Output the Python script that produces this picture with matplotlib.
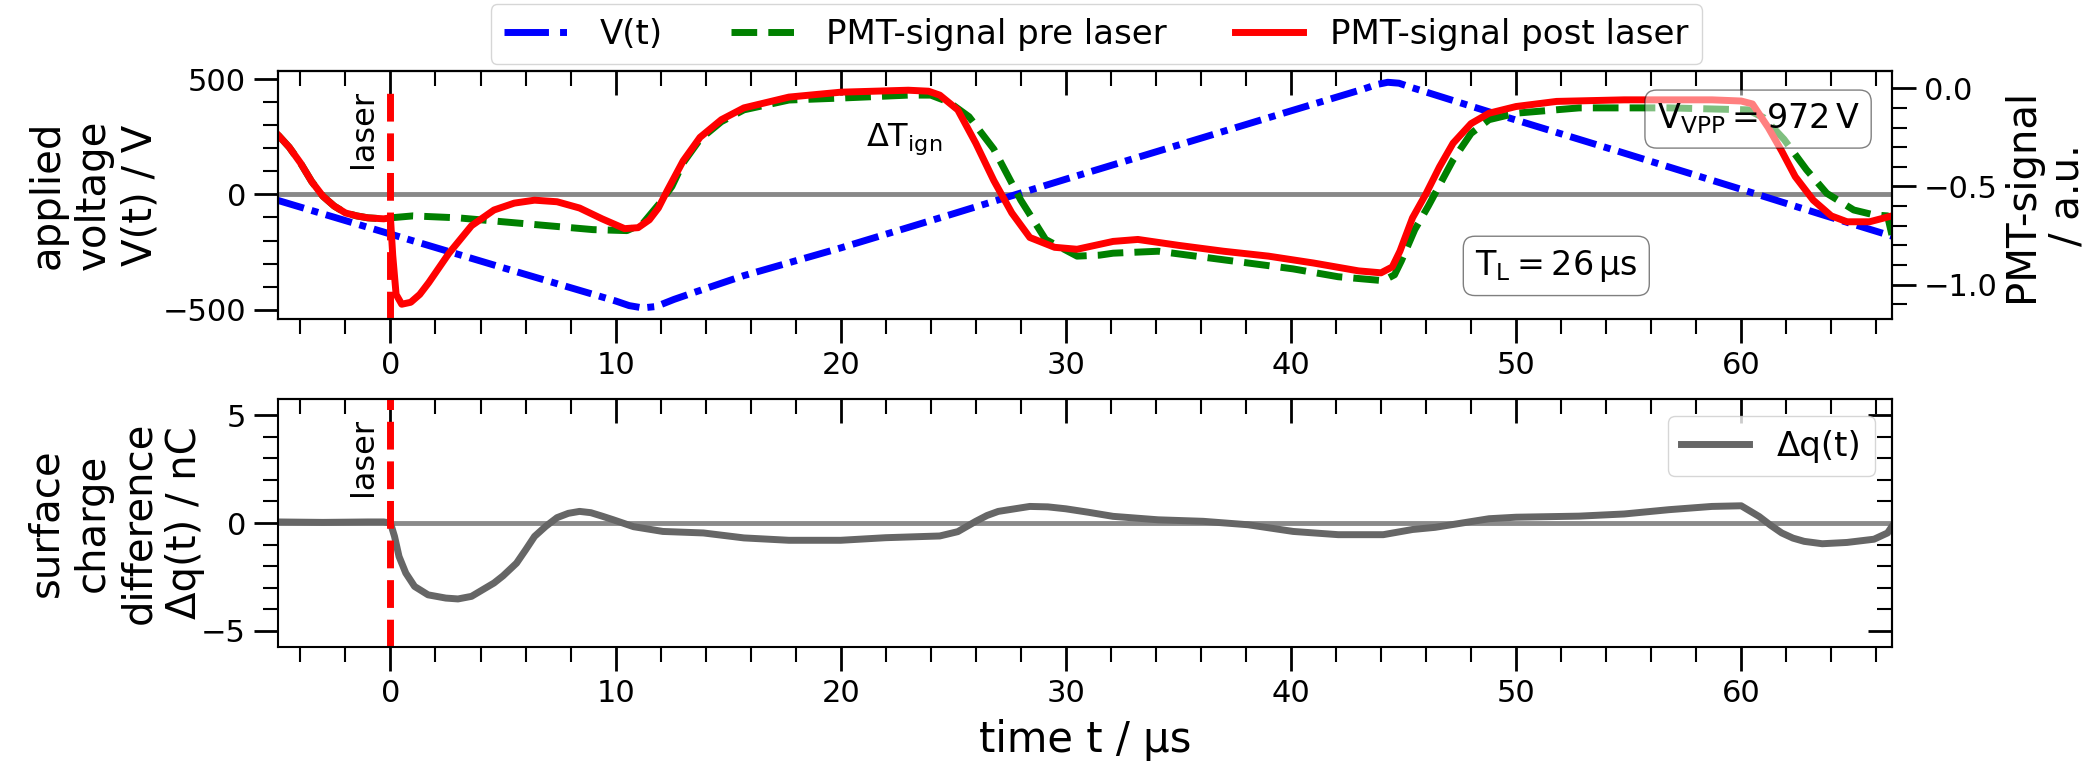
import matplotlib
matplotlib.use("Agg")
import matplotlib.pyplot as plt
from matplotlib.ticker import MultipleLocator
from matplotlib.lines import Line2D
import matplotlib.transforms as mtransforms

plt.rcParams['font.family'] = ['DejaVu Sans']
plt.rcParams['mathtext.fontset'] = 'dejavusans'

# ---------------- data ----------------
t_v = [-5, 0, 5, 10, 10.6, 11.2, 11.8, 12.6, 13.7, 15.7, 20, 25, 30, 35, 40,
       43.2, 43.8, 44.3, 44.8, 45.4, 48.8, 54.6, 60, 63.5, 66.7]
v_t = [-26, -172, -318, -462, -482, -492, -486, -455, -418, -352, -232, -84, 66,
       214, 362, 456, 476, 486, 482, 462, 358, 185, 22, -85, -181]

t_post = [-5, -4.5, -4, -3.5, -3, -2.5, -2, -1.5, -1, -0.3, 0, 0.1, 0.25, 0.5,
          0.9, 1.3, 1.7, 2.6, 3.6, 4.6, 5.5, 6.4, 7.4, 8.4, 9.4, 10.4, 11.0,
          11.5, 11.9, 12.3, 13.0, 13.75, 14.7, 15.7, 17.7, 20, 23.0, 23.9, 24.4,
          25.2, 26.0, 26.8, 27.6, 28.4, 29.5, 30.5, 31.3, 32.1, 33.2, 35, 37,
          39, 41, 43, 44.0, 44.5, 44.84, 45.4, 46.0, 46.6, 47.2, 48.0, 48.8,
          50.0, 51.8, 54.8, 58.7, 60.0, 60.5, 61.2, 61.8, 62.4, 63.2, 64.0,
          64.7, 65.7, 66.7]
pmt_post = [-0.237, -0.30, -0.38, -0.475, -0.55, -0.60, -0.635, -0.65, -0.66,
            -0.665, -0.66, -0.85, -1.05, -1.10, -1.09, -1.05, -0.99, -0.84,
            -0.70, -0.62, -0.585, -0.57, -0.578, -0.61, -0.665, -0.715, -0.71,
            -0.67, -0.61, -0.52, -0.37, -0.25, -0.16, -0.10, -0.045, -0.02,
            -0.01, -0.015, -0.035, -0.11, -0.28, -0.47, -0.635, -0.76, -0.81,
            -0.82, -0.80, -0.78, -0.77, -0.80, -0.83, -0.855, -0.89, -0.93,
            -0.94, -0.91, -0.83, -0.66, -0.537, -0.40, -0.28, -0.18, -0.127,
            -0.093, -0.067, -0.059, -0.059, -0.065, -0.08, -0.20, -0.32,
            -0.45, -0.57, -0.65, -0.68, -0.68, -0.65]

t_pre = [-5, -4.5, -4, -3.5, -3, -2.5, -2, -1.5, -1, -0.3, 0, 1, 3, 5, 7, 9,
         10.5, 11.2, 12.0, 12.5, 13.0, 13.75, 14.7, 15.7, 17.7, 20, 23.0, 24.0,
         24.8, 25.7, 26.8, 28.0, 29.1, 30.5, 31.5, 32.1, 34.1, 36.1, 38.1,
         40.1, 42.1, 44.1, 44.6, 44.9, 45.5, 46.1, 47.2, 48.0, 48.8, 50.0,
         52.8, 56.8, 60.3, 61.0, 61.9, 62.9, 63.8, 65.0, 65.9, 66.5, 66.8]
pmt_pre = [-0.237, -0.30, -0.38, -0.475, -0.55, -0.60, -0.635, -0.65, -0.66,
           -0.665, -0.66, -0.65, -0.66, -0.68, -0.70, -0.72, -0.725, -0.69,
           -0.58, -0.50, -0.38, -0.26, -0.17, -0.11, -0.06, -0.05, -0.035,
           -0.035, -0.07, -0.145, -0.31, -0.57, -0.77, -0.855, -0.85, -0.84,
           -0.83, -0.86, -0.89, -0.92, -0.96, -0.98, -0.95, -0.88, -0.72,
           -0.60, -0.365, -0.23, -0.16, -0.127, -0.10, -0.10, -0.11, -0.15,
           -0.26, -0.415, -0.535, -0.62, -0.645, -0.65, -0.80]

t_dq = [-5, -3, -1, -0.3, 0, 0.18, 0.38, 0.68, 1.07, 1.67, 2.46, 3.0, 3.6, 4.6,
        5.0, 5.6, 6.0, 6.4, 6.9, 7.4, 7.9, 8.4, 8.9, 9.4, 9.9, 10.8, 12.1,
        13.9, 15.7, 17.7, 20, 22, 24.4, 25.2, 26.0, 26.5, 27.0, 28.4, 29.2,
        30, 31.0, 32.1, 34.1, 36.1, 38.1, 40.1, 42.1, 44.1, 45.4, 46.4, 48.8,
        50, 52.8, 54.8, 56.8, 58.7, 60.0, 60.8, 61.3, 61.8, 62.3, 62.8, 63.6,
        64.7, 65.9, 66.5, 66.9]
dq = [0.05, 0.03, 0.05, 0.05, 0.0, -0.62, -1.55, -2.32, -2.94, -3.33, -3.48,
      -3.52, -3.40, -2.78, -2.45, -1.86, -1.25, -0.62, -0.15, 0.25, 0.45, 0.54,
      0.48, 0.32, 0.15, -0.17, -0.39, -0.46, -0.69, -0.80, -0.80, -0.68,
      -0.60, -0.40, 0.08, 0.35, 0.54, 0.77, 0.75, 0.66, 0.50, 0.31, 0.15,
      0.08, -0.08, -0.39, -0.54, -0.54, -0.30, -0.20, 0.20, 0.27, 0.32, 0.42,
      0.62, 0.77, 0.80, 0.30, -0.10, -0.46, -0.70, -0.85, -0.96, -0.90, -0.75,
      -0.46, 0.15]

laser_t = 0
labels = ['V(t)', 'PMT-signal pre laser', 'PMT-signal post laser']
dq_label = 'Δq(t)'

# ---------------- figure ----------------
fig = plt.figure(figsize=(20.99, 7.64), dpi=100)
ax = fig.add_axes([0.1324, 0.5825, 0.769, 0.3246])
axb = fig.add_axes([0.1324, 0.1531, 0.769, 0.3246], sharex=ax)
ax2 = ax.twinx()

LW = 5
TL_MAJ, TL_MIN = 17, 11
TFS = 22
LFS = 29
VDASH = (0, (3.9, 1.15, 1.0, 1.15))

ax.axhline(0, color='#888888', lw=3.5, zorder=1)
ax.plot(t_v, v_t, color='blue', lw=LW, ls=VDASH)
l_pre, = ax2.plot(t_pre, pmt_pre, color='green', lw=LW, ls='--')
l_post, = ax2.plot(t_post, pmt_post, color='red', lw=LW, ls='-')
ax2.axvline(laser_t, ymin=0, ymax=0.94, color='red', lw=LW, ls=(0, (4, 1.7)))

axb.axhline(0, color='#8a8a8a', lw=3.5, zorder=1)
axb.plot(t_dq, dq, color='#666666', lw=LW, label=dq_label)
axb.axvline(laser_t, color='red', lw=LW, ls=(0, (4, 1.7)))

# legend proxy for V(t)
h_v = Line2D([], [], color='blue', lw=LW, ls='-.')

# limits
ax.set_xlim(-5, 66.7)
ax.set_ylim(-540, 535)
ax2.set_ylim(-1.175, 0.088)
axb.set_ylim(-5.75, 5.75)

# ticks
ax.xaxis.set_major_locator(MultipleLocator(10))
ax.xaxis.set_minor_locator(MultipleLocator(2))
ax.yaxis.set_major_locator(MultipleLocator(500))
ax.yaxis.set_minor_locator(MultipleLocator(100))
ax2.yaxis.set_major_locator(MultipleLocator(0.5))
ax2.yaxis.set_minor_locator(MultipleLocator(0.1))
axb.yaxis.set_major_locator(MultipleLocator(5))
axb.yaxis.set_minor_locator(MultipleLocator(1))

for a in (ax, axb, ax2):
    a.tick_params(which='major', direction='out', length=TL_MAJ, width=2,
                  labelsize=TFS, pad=6)
    a.tick_params(which='minor', direction='out', length=TL_MIN, width=1.5)
    for s in a.spines.values():
        s.set_linewidth(1.5)
ax.tick_params(axis='y', which='both', right=False)
axb.tick_params(axis='y', which='both', right=False)
axb.tick_params(axis='x', which='both', top=False)
ax.tick_params(axis='x', which='both', top=False)

for a in (ax, axb):
    sec = a.secondary_xaxis('top')
    sec.xaxis.set_major_locator(MultipleLocator(10))
    sec.xaxis.set_minor_locator(MultipleLocator(2))
    sec.tick_params(which='major', direction='in', length=TL_MAJ, width=2,
                    labeltop=False)
    sec.tick_params(which='minor', direction='in', length=TL_MIN, width=1.5)
    sec.spines['top'].set_linewidth(1.5)

secy = axb.secondary_yaxis('right')
secy.yaxis.set_major_locator(MultipleLocator(5))
secy.yaxis.set_minor_locator(MultipleLocator(1))
secy.tick_params(which='major', direction='in', length=TL_MAJ, width=2,
                 labelright=False)
secy.tick_params(which='minor', direction='in', length=TL_MIN, width=1.5)
secy.spines['right'].set_linewidth(1.5)

# labels
ax.set_ylabel('applied\nvoltage\nV(t) / V', fontsize=LFS)
ax.yaxis.set_label_coords(-0.073, 0.5)
ax2.set_ylabel('PMT-signal\n/ a.u.', fontsize=LFS)
ax2.yaxis.set_label_coords(1.068, 0.5)
axb.set_ylabel('surface\ncharge\ndifference\nΔq(t) / nC', fontsize=LFS)
axb.yaxis.set_label_coords(-0.045, 0.5)
axb.set_xlabel('time t / µs', fontsize=30)
axb.xaxis.set_label_coords(0.5, -0.29)

# texts
for a in (ax, axb):
    tr = mtransforms.blended_transform_factory(a.transData, a.transAxes)
    a.text(-0.5, 0.925, 'laser', rotation=90, ha='right', va='top',
           transform=tr, fontsize=23)

ax.text(22.8, 238, r'$\Delta\mathrm{T_{ign}}$', ha='center', va='center',
        fontsize=23)
box = dict(boxstyle='round,pad=0.35', facecolor='white', alpha=0.5)
ax2.text(0.917, 0.806, r'$\mathrm{V_{VPP}} = 972\,\mathrm{V}$',
         transform=ax2.transAxes, ha='center', va='center', fontsize=24,
         bbox=box, zorder=10)
ax2.text(0.792, 0.214, r'$\mathrm{T_L} = 26\,\mathrm{µs}$',
         transform=ax2.transAxes, ha='center', va='center', fontsize=24,
         bbox=box, zorder=10)

# legends
ax2.legend([h_v, l_pre, l_post], labels, loc='lower center',
           bbox_to_anchor=(0.507, 1.0), ncol=3, fontsize=24.5,
           borderaxespad=0.2)
axb.legend(loc='upper right', fontsize=24.5)

fig.savefig('out.png', dpi=100)
